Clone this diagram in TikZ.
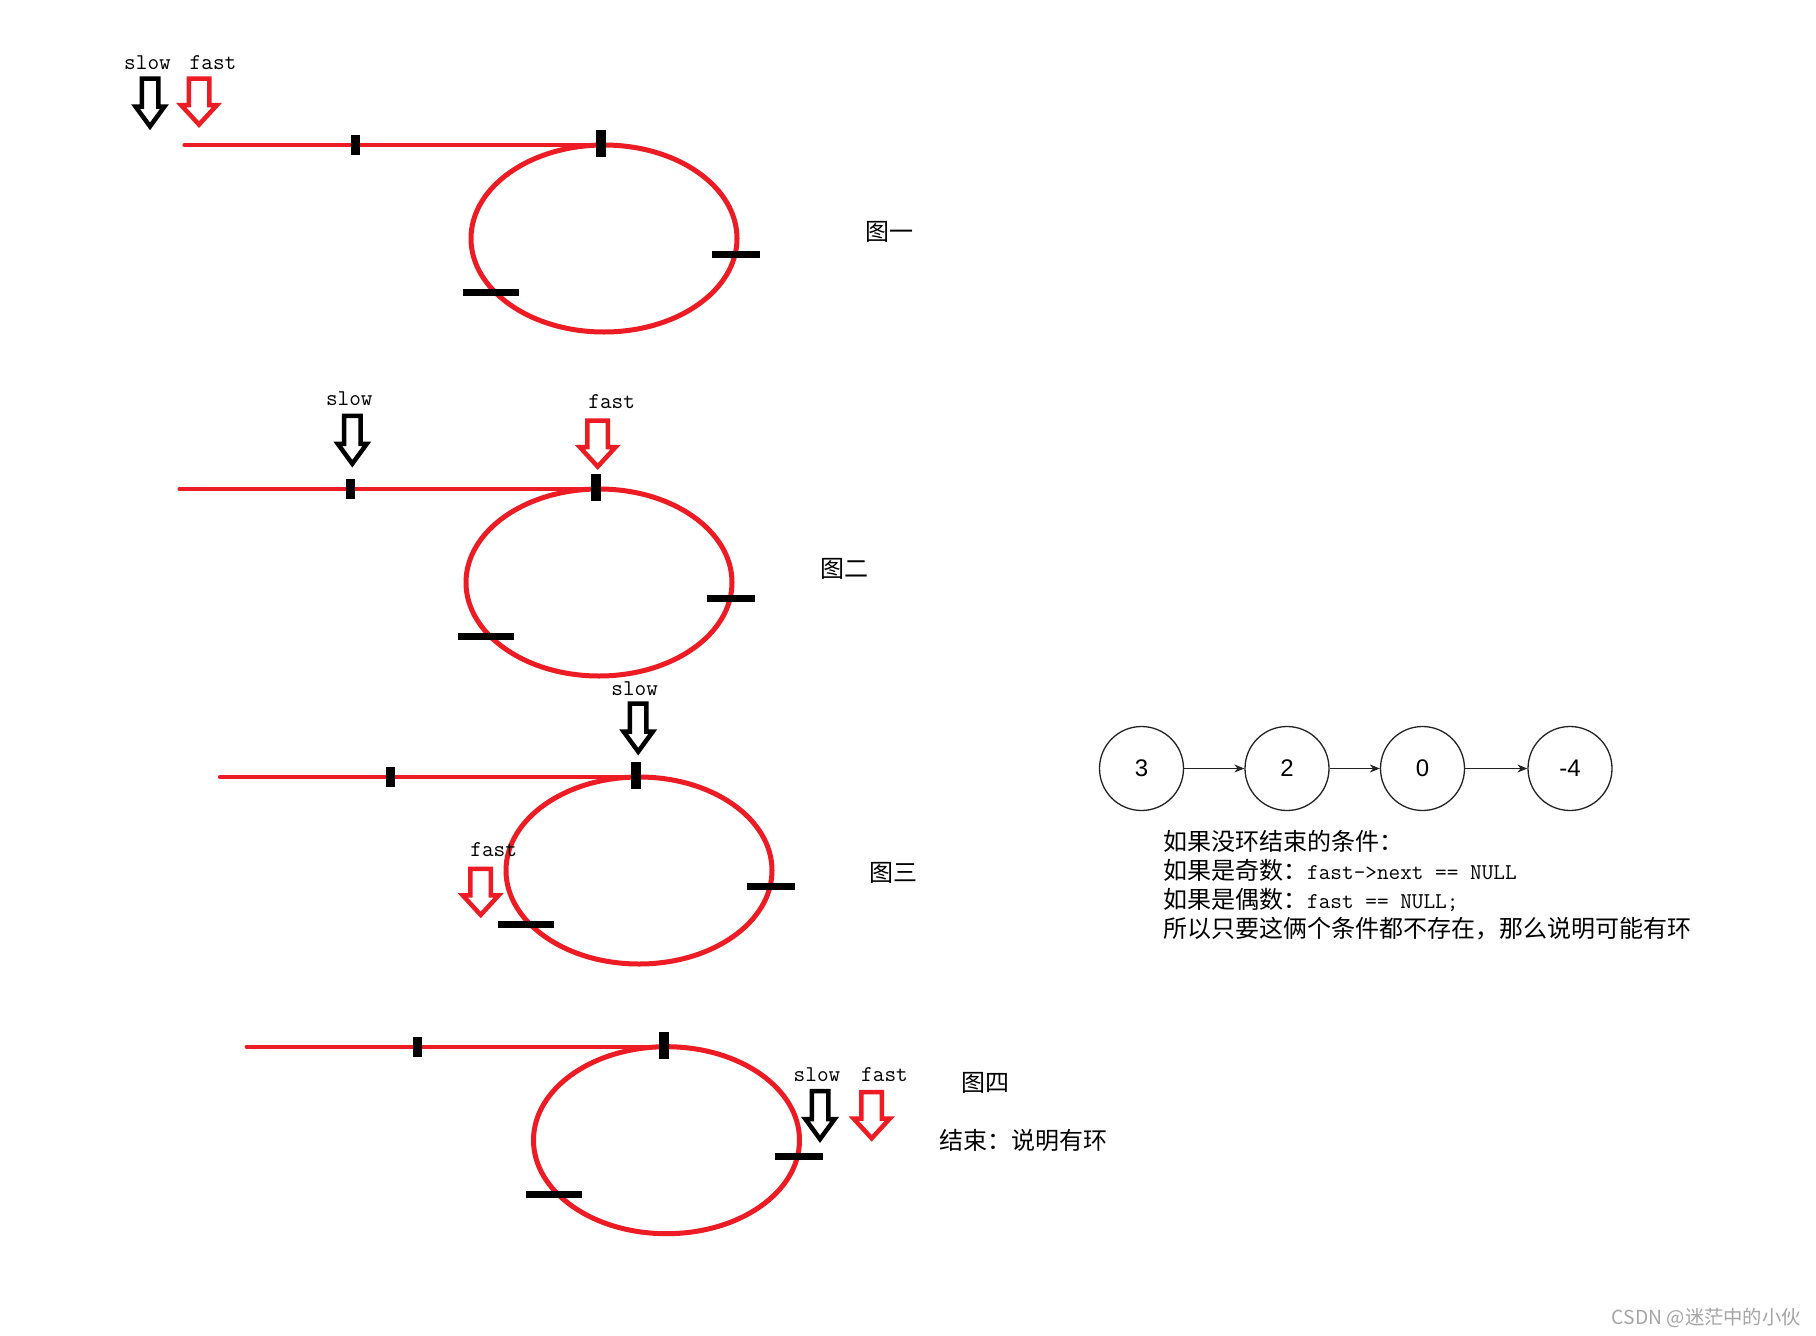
\documentclass[tikz,border=0pt]{standalone}
\usepackage{fontspec}
\newfontfamily\cjk{Noto Sans CJK SC}
\newfontfamily\lsans{Liberation Sans}
\usetikzlibrary{arrows.meta}
\definecolor{pred}{RGB}{237,28,36}
\definecolor{wmark}{RGB}{165,165,165}
\definecolor{ink}{RGB}{35,35,35}
\newcommand\lat[1]{{\fontsize{22.6}{26}\selectfont\ttfamily #1}}
% #1 line y, #2 line start x, #3 small tick x, #4 loop centre x
\newcommand\loopfig[4]{%
  \draw[redline] (#2,#1) -- (#4,#1);
  \draw[redloop] (#4,#1+93.5) ellipse [x radius=133, y radius=93.5];
  \fill[black] (#3-4.5,#1-10) rectangle (#3+4.5,#1+10);
  \fill[black] (#4-8,#1-15) rectangle (#4+2,#1+12);
  \fill[black] (#4+108,#1+106) rectangle (#4+156,#1+113);
  \fill[black] (#4-141,#1+144) rectangle (#4-85,#1+151);
}
\tikzset{
  redline/.style={draw=pred, line width=4.2pt, line cap=round},
  redloop/.style={draw=pred, line width=5pt},
  sarr/.pic={\draw[line width=4.5pt,black,line join=miter,miter limit=20]
     (0,-3.6) -- (-14.5,-23.5) -- (-8.25,-23.5) -- (-8.25,-51.5) -- (8.25,-51.5) -- (8.25,-23.5) -- (14.5,-23.5) -- cycle;},
  farr/.pic={\draw[line width=4.5pt,pred,line join=miter,miter limit=20]
     (0,-3.4) -- (-18,-23) -- (-10.25,-23) -- (-10.25,-49.5) -- (10.25,-49.5) -- (10.25,-23) -- (18,-23) -- cycle;},
  ptr/.style={inner sep=0pt, anchor=base, font=\fontsize{22.6}{26}\selectfont\ttfamily},
  cjklab/.style={inner sep=0pt, font=\fontsize{24}{28}\selectfont\cjk},
  txtline/.style={inner sep=0pt, anchor=base west, font=\fontsize{24}{28}\selectfont\cjk},
  circ/.style={circle, draw=ink, line width=1.3pt, minimum size=84pt, inner sep=0pt, font=\fontsize{24}{28}\selectfont\lsans},
  larr/.style={-{Stealth[length=10pt,width=8pt]}, line width=1.2pt, draw=ink},
}
\begin{document}
\begin{tikzpicture}[x=1pt,y=-1pt]
\fill[white] (0,0) rectangle (1816,1336);
\useasboundingbox (0,0) rectangle (1816,1336);

% Figure 1
\loopfig{145}{184.5}{355.5}{604}
\node[ptr] (s1) at (147.5,69) {slow};
\node[ptr] (f1) at (213,69) {fast};
\pic at (150,130) {sarr};
\pic at (199,128) {farr};
\node[cjklab] (lab1) at (889.5,231.6) {图一};

% Figure 2
\loopfig{489}{179.5}{350}{599}
\node[ptr] (s2) at (349.3,405) {slow};
\node[ptr] (f2) at (611.7,408.3) {fast};
\pic at (352.3,467.3) {sarr};
\pic at (597.7,470) {farr};
\node[cjklab] (lab2) at (844.3,568.7) {图二};

% Figure 3
\loopfig{777}{220}{390.3}{639}
\node[ptr] (s3) at (634.7,695) {slow};
\node[ptr] (f3) at (493.7,856.7) {fast};
\pic at (638.2,755.2) {sarr};
\pic at (480.7,918.3) {farr};
\node[cjklab] (lab3) at (893,873.3) {图三};

% Figure 4
\loopfig{1046.7}{246.7}{417}{666.5}
\node[ptr] (s4) at (817,1081) {slow};
\node[ptr] (f4) at (884.5,1081) {fast};
\pic at (820,1142.7) {sarr};
\pic at (871.7,1141.7) {farr};
\node[cjklab] (lab4) at (985,1082.5) {图四};
\node[cjklab] (endtxt) at (1023.5,1140) {结束：说明有环};

% Linked list
\node[circ] (n1) at (1141.5,768.5) {3};
\node[circ] (n2) at (1287,768.5) {2};
\node[circ] (n3) at (1422.5,768.5) {0};
\node[circ] (n4) at (1570,768.5) {-4};
\draw[larr] (n1) -- (n2);
\draw[larr] (n2) -- (n3);
\draw[larr] (n3) -- (n4);

% Conditions text
\node[txtline] (t1) at (1163,850) {如果没环结束的条件：};
\node[txtline] (t2) at (1163,879) {如果是奇数：\lat{fast->next == NULL}};
\node[txtline] (t3) at (1163,908) {如果是偶数：\lat{fast == NULL;}};
\node[txtline] (t4) at (1163,937) {所以只要这俩个条件都不存在，那么说明可能有环};

% Watermark
\node[inner sep=0pt, anchor=base east, text=wmark, font=\fontsize{19.3}{23}\selectfont\cjk] (wm) at (1801,1324) {CSDN @迷茫中的小伙};
\end{tikzpicture}
\end{document}
